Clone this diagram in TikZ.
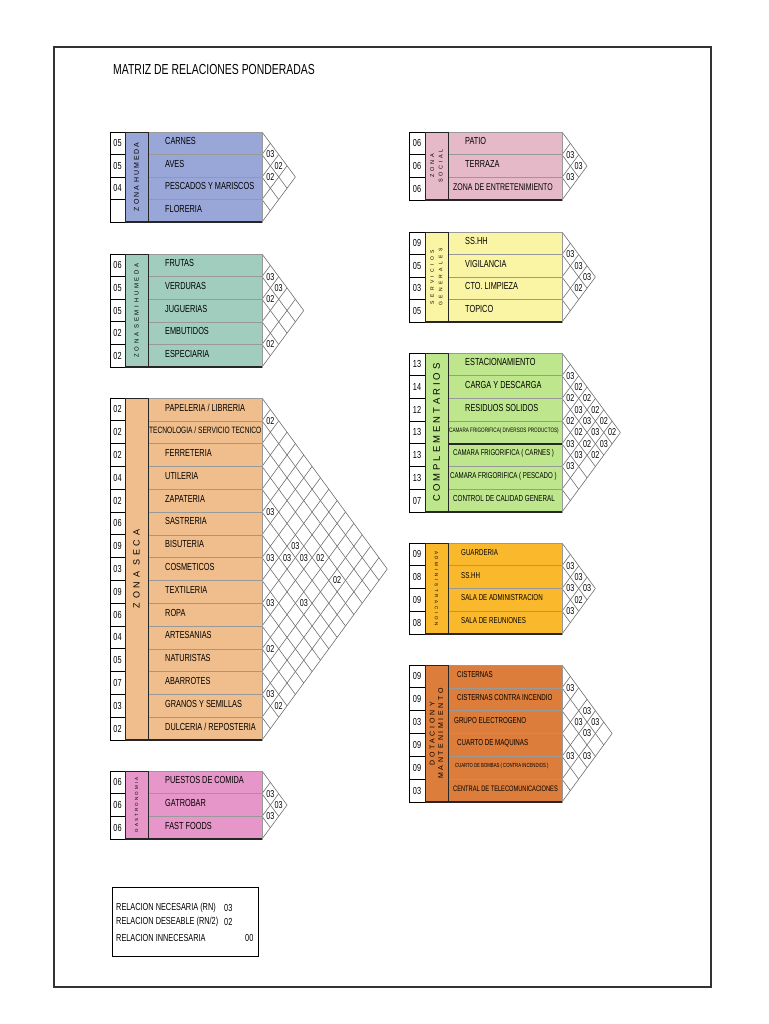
\documentclass[tikz,border=0pt]{standalone}
\usepackage{fontspec}
\setmainfont[FakeStretch=0.72]{Liberation Sans}
\newfontfamily\rotfont{Liberation Sans}
\usepackage{tikz}
\usetikzlibrary{positioning}
\definecolor{humeda}{RGB}{153,166,216}
\definecolor{semihumeda}{RGB}{160,205,190}
\definecolor{seca}{RGB}{240,190,140}
\definecolor{gastro}{RGB}{230,150,200}
\definecolor{social}{RGB}{230,185,200}
\definecolor{servicios}{RGB}{250,245,165}
\definecolor{complem}{RGB}{190,230,140}
\definecolor{admin}{RGB}{250,185,45}
\definecolor{dotacion}{RGB}{220,125,60}
\definecolor{rejillagris}{RGB}{110,110,110}
\newcommand{\chico}[1]{\fontsize{#1}{12}\selectfont}
\newcommand{\rotulo}[2]{\rotfont\fontsize{#1}{8.5}\selectfont\addfontfeature{LetterSpace=#2}}
\newcommand{\medio}{8.35}
\def\fs{10.2}
\tikzstyle{numero} = [rectangle, draw=black, fill=white, line width=0.7pt, minimum width=15pt, minimum height=\hh pt, inner sep=0pt, outer sep=0pt, font=\chico{10.2}]
\tikzstyle{fila} = [rectangle, draw=gray!80, line width=0.6pt, minimum width=114pt, minimum height=\hh pt, inner sep=0pt, outer sep=0pt]
\tikzstyle{texto} = [anchor=west, inner sep=0pt, yshift=2pt, font=\chico{\fs}]
\tikzstyle{zona} = [rectangle, draw=black!85, line width=0.8pt, minimum height=23pt, inner sep=0pt, outer sep=0pt, align=center]
\tikzstyle{peso} = [inner sep=0pt, font=\chico{10}]
\tikzstyle{rejilla} = [draw=rejillagris, line width=0.6pt]
\tikzstyle{borde} = [line width=1.8pt, black!85]
\tikzstyle{marco} = [line width=1.2pt, black!80]
\newcommand{\rombos}[1]{%
  \foreach \m in {0,...,#1}{
    \draw[rejilla] (\xo,{\yt+\m*\hh}) -- ({\xo+(#1-\m)*\medio},{\yt+\m*\hh+(#1-\m)*\hh/2});
    \draw[rejilla] (\xo,{\yt+\m*\hh}) -- ({\xo+\m*\medio},{\yt+\m*\hh/2});
  }}
\newcommand{\rel}[4]{\node[peso] (#1-r#2-#3) at ({\xo+(#3-#2)*\medio},{\yt+(#2+#3-1)*\hh/2}) {#4};}

\begin{document}
\begin{tikzpicture}[x=1pt, y=-1pt]
\useasboundingbox (0,0) rectangle (768,1024);
\draw[marco] (54,47) rectangle (711,987);
\node[anchor=west, inner sep=0pt, font=\chico{14.5}] (titulo) at (113,70) {MATRIZ DE RELACIONES PONDERADAS};

% ZONA HUMEDA
\def\xo{262}\def\yt{132}\def\hh{22.5}
\rombos{4}
\foreach \cod/\dx/\nom [count=\k] in {05/17/CARNES, 05/17/AVES, 04/17/{PESCADOS Y MARISCOS}, {}/17/FLORERIA}{
  \node[numero] (hum-n\k) at (117.5,{\yt+(\k-0.5)*\hh}) {\cod};
  \node[fila, fill=humeda] (hum-\k) at (205,{\yt+(\k-0.5)*\hh}) {};
  \node[texto] (hum-t\k) at ([xshift=\dx pt]hum-\k.west) {\nom};
}
\node[zona, fill=humeda, rotate=90, minimum width={4*\hh pt}, font=\rotulo{7}{26}] (hum-zona) at (136.5,{\yt+2*\hh}) {ZONA HUMEDA};
\draw[borde] (hum-n4.south east) -- (hum-4.south east);
\rel{hum}{1}{2}{03} \rel{hum}{1}{3}{02} \rel{hum}{2}{3}{02}

% ZONA SEMIHUMEDA
\def\yt{254}\def\hh{22.6}
\rombos{5}
\foreach \cod/\dx/\nom [count=\k] in {06/17/FRUTAS, 05/17/VERDURAS, 05/17/JUGUERIAS, 02/17/EMBUTIDOS, 02/17/ESPECIARIA}{
  \node[numero] (semi-n\k) at (117.5,{\yt+(\k-0.5)*\hh}) {\cod};
  \node[fila, fill=semihumeda] (semi-\k) at (205,{\yt+(\k-0.5)*\hh}) {};
  \node[texto] (semi-t\k) at ([xshift=\dx pt]semi-\k.west) {\nom};
}
\node[zona, fill=semihumeda, rotate=90, minimum width={5*\hh pt}, font=\rotulo{6}{45}] (semi-zona) at (136.5,{\yt+2.5*\hh}) {ZONA SEMIHUMEDA};
\draw[borde] (semi-n5.south east) -- (semi-5.south east);
\rel{semi}{1}{2}{03} \rel{semi}{1}{3}{03} \rel{semi}{2}{3}{02} \rel{semi}{4}{5}{02}

% ZONA SECA
\def\yt{398}\def\hh{22.8}
\rombos{15}
\foreach \cod/\dx/\nom [count=\k] in {02/17/{PAPELERIA / LIBRERIA}, 02/1/{\chico{9.2}TECNOLOGIA / SERVICIO TECNICO}, 02/17/FERRETERIA, 04/17/UTILERIA, 02/17/ZAPATERIA, 06/17/SASTRERIA, 09/17/BISUTERIA, 03/17/COSMETICOS, 09/17/TEXTILERIA, 06/17/ROPA, 04/17/ARTESANIAS, 05/17/NATURISTAS, 07/17/ABARROTES, 03/17/{GRANOS Y SEMILLAS}, 02/17/{DULCERIA / REPOSTERIA}}{
  \node[numero] (seca-n\k) at (117.5,{\yt+(\k-0.5)*\hh}) {\cod};
  \node[fila, fill=seca] (seca-\k) at (205,{\yt+(\k-0.5)*\hh}) {};
  \node[texto] (seca-t\k) at ([xshift=\dx pt]seca-\k.west) {\nom};
}
\node[zona, fill=seca, rotate=90, minimum width={15*\hh pt}, font=\rotulo{9}{42}] (seca-zona) at (136.5,{\yt+7.5*\hh}) {ZONA SECA};
\draw[borde] (seca-n15.south east) -- (seca-15.south east);
\rel{seca}{1}{2}{02} \rel{seca}{5}{6}{03} \rel{seca}{7}{8}{03} \rel{seca}{6}{9}{03}
\rel{seca}{5}{9}{03} \rel{seca}{5}{10}{03} \rel{seca}{4}{11}{02} \rel{seca}{4}{13}{02}
\rel{seca}{9}{10}{03} \rel{seca}{7}{12}{03} \rel{seca}{11}{12}{02} \rel{seca}{13}{14}{03}
\rel{seca}{13}{15}{02}

% GASTRONOMIA
\def\yt{771}\def\hh{22.67}
\rombos{3}
\foreach \cod/\dx/\nom [count=\k] in {06/17/{PUESTOS DE COMIDA}, 06/17/GATROBAR, 06/17/{FAST FOODS}}{
  \node[numero] (gas-n\k) at (117.5,{\yt+(\k-0.5)*\hh}) {\cod};
  \node[fila, fill=gastro] (gas-\k) at (205,{\yt+(\k-0.5)*\hh}) {};
  \node[texto] (gas-t\k) at ([xshift=\dx pt]gas-\k.west) {\nom};
}
\node[zona, fill=gastro, rotate=90, minimum width={3*\hh pt}, font=\rotulo{4.5}{47}] (gas-zona) at (136.5,{\yt+1.5*\hh}) {GASTRONOMIA};
\draw[borde] (gas-n3.south east) -- (gas-3.south east);
\rel{gas}{1}{2}{03} \rel{gas}{1}{3}{03} \rel{gas}{2}{3}{03}

% leyenda
\node[rectangle, draw=black, line width=0.8pt, minimum width=146pt, minimum height=69pt] (ley) at (185,921.5) {};
\node[texto, yshift=-2pt] (ley-1) at (116,908) {RELACION NECESARIA (RN)};
\node[texto, yshift=-2pt] (ley-2) at (116,922) {RELACION DESEABLE (RN/2)};
\node[texto, yshift=-2pt] (ley-3) at (116,938) {RELACION INNECESARIA};
\node[texto, yshift=-2pt] (ley-v1) at (224,908) {03};
\node[texto, yshift=-2pt] (ley-v2) at (224,922) {02};
\node[texto, yshift=-2pt] (ley-v3) at (245,938) {00};

% ZONA SOCIAL
\def\xo{562}\def\yt{132}\def\hh{22.67}
\rombos{3}
\foreach \cod/\dx/\nom [count=\k] in {06/17/PATIO, 06/17/TERRAZA, 06/5/{\chico{9.7}ZONA DE ENTRETENIMIENTO}}{
  \node[numero, minimum width=16pt] (soc-n\k) at (417,{\yt+(\k-0.5)*\hh}) {\cod};
  \node[fila, fill=social] (soc-\k) at (505,{\yt+(\k-0.5)*\hh}) {};
  \node[texto] (soc-t\k) at ([xshift=\dx pt]soc-\k.west) {\nom};
}
\node[zona, fill=social, rotate=90, minimum width={3*\hh pt}, font=\rotulo{5.5}{50}] (soc-zona) at (436.5,{\yt+1.5*\hh}) {ZONA\\SOCIAL};
\draw[borde] (soc-n3.south east) -- (soc-3.south east);
\rel{soc}{1}{2}{03} \rel{soc}{1}{3}{03} \rel{soc}{2}{3}{03}

% SERVICIOS GENERALES
\def\yt{232}\def\hh{22.5}
\rombos{4}
\foreach \cod/\dx/\nom [count=\k] in {09/17/SS.HH, 05/17/VIGILANCIA, 03/17/{CTO. LIMPIEZA}, 05/17/TOPICO}{
  \node[numero, minimum width=16pt] (serv-n\k) at (417,{\yt+(\k-0.5)*\hh}) {\cod};
  \node[fila, fill=servicios] (serv-\k) at (505,{\yt+(\k-0.5)*\hh}) {};
  \node[texto] (serv-t\k) at ([xshift=\dx pt]serv-\k.west) {\nom};
}
\node[zona, fill=servicios, rotate=90, minimum width={4*\hh pt}, font=\rotulo{5}{68}] (serv-zona) at (436.5,{\yt+2*\hh}) {SERVICIOS\\GENERALES};
\draw[borde] (serv-n4.south east) -- (serv-4.south east);
\rel{serv}{1}{2}{03} \rel{serv}{1}{3}{03} \rel{serv}{1}{4}{03} \rel{serv}{2}{4}{02}

% COMPLEMENTARIOS
\def\yt{353}\def\hh{22.71}
\rombos{7}
\foreach \cod/\dx/\nom [count=\k] in {13/17/ESTACIONAMIENTO, 14/17/{CARGA Y DESCARGA}, 12/17/{RESIDUOS SOLIDOS}, 13/1/{\chico{6.4}CAMARA FRIGORIFICA( DIVERSOS PRODUCTOS)}, 13/5/{\chico{8.4}CAMARA FRIGORIFICA ( CARNES )}, 13/2/{\chico{8.5}CAMARA FRIGORIFICA ( PESCADO )}, 07/5/{\chico{8.7}CONTROL DE CALIDAD GENERAL}}{
  \node[numero, minimum width=16pt] (comp-n\k) at (417,{\yt+(\k-0.5)*\hh}) {\cod};
  \node[fila, fill=complem] (comp-\k) at (505,{\yt+(\k-0.5)*\hh}) {};
  \node[texto] (comp-t\k) at ([xshift=\dx pt]comp-\k.west) {\nom};
}
\node[zona, fill=complem, rotate=90, minimum width={7*\hh pt}, font=\rotulo{9.5}{32}] (comp-zona) at (436.5,{\yt+3.5*\hh}) {COMPLEMENTARIOS};
\draw[borde] (comp-n7.south east) -- (comp-7.south east);
\draw[borde] (comp-4.south west) -- (comp-4.south east);
\rel{comp}{1}{2}{03} \rel{comp}{1}{3}{02} \rel{comp}{2}{3}{02} \rel{comp}{1}{4}{02}
\rel{comp}{2}{4}{03} \rel{comp}{1}{5}{02} \rel{comp}{3}{4}{02} \rel{comp}{2}{5}{03}
\rel{comp}{1}{6}{02} \rel{comp}{3}{5}{02} \rel{comp}{2}{6}{03} \rel{comp}{1}{7}{02}
\rel{comp}{4}{5}{03} \rel{comp}{3}{6}{02} \rel{comp}{2}{7}{03} \rel{comp}{4}{6}{03}
\rel{comp}{3}{7}{02} \rel{comp}{5}{6}{03}

% ADMINISTRACION
\def\yt{543}\def\hh{22.75}\def\fs{8.6}
\rombos{4}
\foreach \cod/\dx/\nom [count=\k] in {09/13/GUARDERIA, 08/13/SS.HH, 09/13/{SALA DE ADMINISTRACION}, 08/13/{SALA DE REUNIONES}}{
  \node[numero, minimum width=16pt] (adm-n\k) at (417,{\yt+(\k-0.5)*\hh}) {\cod};
  \node[fila, fill=admin] (adm-\k) at (505,{\yt+(\k-0.5)*\hh}) {};
  \node[texto] (adm-t\k) at ([xshift=\dx pt]adm-\k.west) {\nom};
}
\node[zona, fill=admin, rotate=-90, minimum width={4*\hh pt}, font=\rotulo{4.5}{61}] (adm-zona) at (436.5,{\yt+2*\hh}) {ADMINISTRACION};
\draw[borde] (adm-n4.south east) -- (adm-4.south east);
\rel{adm}{1}{2}{03} \rel{adm}{1}{3}{03} \rel{adm}{2}{3}{03} \rel{adm}{1}{4}{03}
\rel{adm}{2}{4}{02} \rel{adm}{3}{4}{03}

% DOTACION Y MANTENIMIENTO
\def\yt{665}\def\hh{22.83}
\rombos{6}
\foreach \cod/\dx/\nom [count=\k] in {09/9/CISTERNAS, 09/9/{CISTERNAS CONTRA INCENDIO}, 03/6/{GRUPO ELECTROGENO}, 09/9/{CUARTO DE MAQUINAS}, 09/7/{\chico{5.9}CUARTO DE BOMBAS ( CONTRA INCENDIOS )}, 03/5/{\chico{7.9}CENTRAL DE TELECOMUNICACIONES}}{
  \node[numero, minimum width=16pt] (dot-n\k) at (417,{\yt+(\k-0.5)*\hh}) {\cod};
  \node[fila, fill=dotacion] (dot-\k) at (505,{\yt+(\k-0.5)*\hh}) {};
  \node[texto] (dot-t\k) at ([xshift=\dx pt]dot-\k.west) {\nom};
}
\node[zona, fill=dotacion, rotate=90, minimum width={6*\hh pt}, font=\rotulo{7}{38}] (dot-zona) at (436.5,{\yt+3*\hh}) {DOTACION Y\\MANTENIMIENTO};
\draw[borde] (dot-n6.south east) -- (dot-6.south east);
\rel{dot}{1}{2}{03} \rel{dot}{1}{4}{03} \rel{dot}{2}{4}{03} \rel{dot}{1}{5}{03}
\rel{dot}{2}{5}{03} \rel{dot}{4}{5}{03} \rel{dot}{3}{6}{03}
\end{tikzpicture}
\end{document}
